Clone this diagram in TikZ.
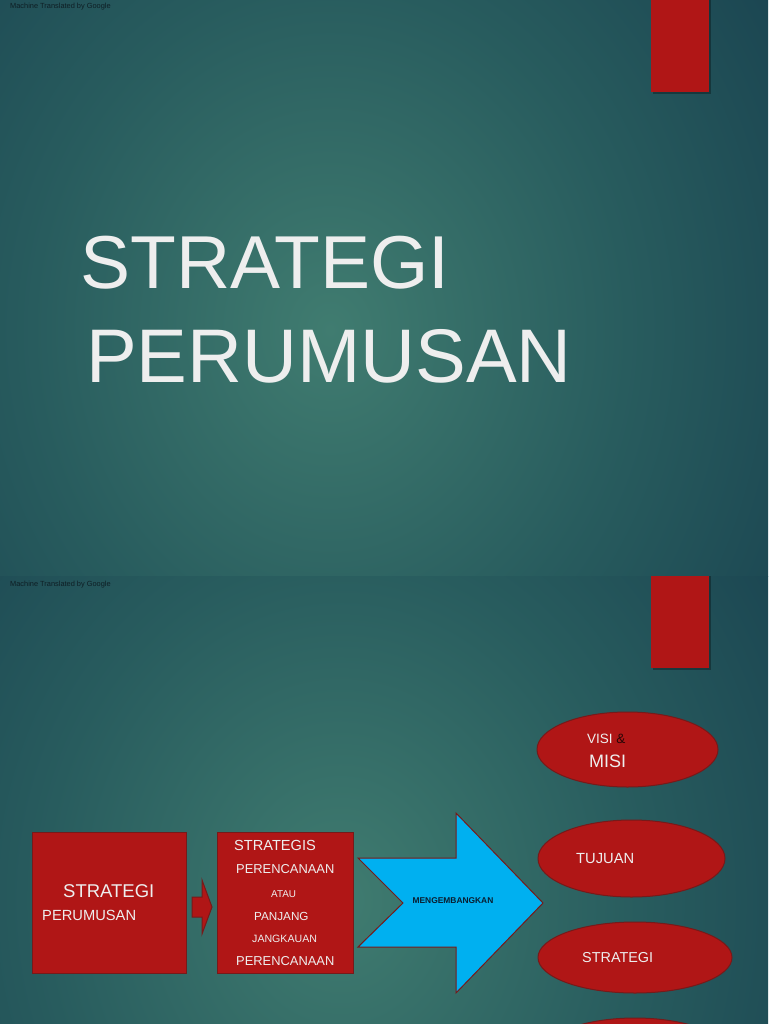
\documentclass[tikz,border=0pt]{standalone}
\usepackage{fontspec}
\setmainfont{Liberation Sans}
\usetikzlibrary{shapes.geometric}
\definecolor{bgin}{RGB}{64,124,112}
\definecolor{bgmid}{RGB}{40,92,94}
\definecolor{bgout}{RGB}{19,56,74}
\definecolor{redf}{RGB}{176,22,22}
\definecolor{redd}{RGB}{118,26,26}
\definecolor{cyanf}{RGB}{0,176,240}
\definecolor{txtw}{RGB}{238,238,238}
\definecolor{notec}{RGB}{14,30,36}
\definecolor{ampc}{RGB}{40,6,6}
\definecolor{navyt}{RGB}{10,30,48}
\pgfdeclareradialshading{glow}{\pgfpoint{0bp}{0bp}}{color(0bp)=(bgin); color(12bp)=(bgmid); color(27bp)=(bgout); color(50bp)=(bgout)}
\begin{document}
\begin{tikzpicture}[x=1pt,y=-1pt,
  redbox/.style={draw=redd, line width=1pt, fill=redf, inner sep=0pt},
  oval/.style={ellipse, draw=redd, line width=1pt, fill=redf, inner sep=0pt},
  tab/.style={fill=redf},
  tabshadow/.style={fill=black, opacity=0.3},
  wt/.style={text=txtw, anchor=base west, inner sep=0pt},
  note/.style={text=notec, anchor=base west, inner sep=0pt, font=\fontsize{7.4}{8}\selectfont},
  blockarrow/.style={draw=redd, line width=1pt}]
\useasboundingbox (0,0) rectangle (768,1024);

% ---------- slide 1 background ----------
\fill[bgout] (0,0) rectangle (768,576);
\begin{scope}
  \clip (0,0) rectangle (768,576);
  \shade[shading=glow] (330,330) ellipse [x radius=620, y radius=720];
\end{scope}
% ---------- slide 2 background ----------
\fill[bgout] (0,576) rectangle (768,1024);
\begin{scope}
  \clip (0,576) rectangle (768,1024);
  \shade[shading=glow] (340,900) ellipse [x radius=620, y radius=720];
\end{scope}

% ---------- slide 1 ----------
\node[note] (n1) at (10,9) {Machine Translated by Google};
\fill[tabshadow] (653,0) rectangle (711,94);
\fill[tab] (651,0) rectangle (709,92);
\node[anchor=base west, inner sep=0pt, text=txtw, font=\fontsize{75}{75}\selectfont] (t1) at (80,288) {STRATEGI};
\node[anchor=base west, inner sep=0pt, text=txtw, font=\fontsize{76}{76}\selectfont] (t2) at (86,382) {PERUMUSAN};

% ---------- slide 2 ----------
\node[note] (n2) at (10,586) {Machine Translated by Google};
\fill[tabshadow] (653,576) rectangle (711,670);
\fill[tab] (651,576) rectangle (709,668);

% box 1
\node[redbox, minimum width=154pt, minimum height=141pt] (box1) at (109,903) {};
\node[wt, font=\fontsize{18.5}{19}\selectfont] (b1a) at (63,897) {STRATEGI};
\node[wt, font=\fontsize{14.7}{15}\selectfont] (b1b) at (42,920) {PERUMUSAN};

% small arrow
\draw[blockarrow, fill=redf] (192,897) -- (202,897) -- (202,880) -- (212,907) -- (202,934) -- (202,917) -- (192,917) -- cycle;

% box 2
\node[redbox, minimum width=136pt, minimum height=141pt] (box2) at (285,903) {};
\node[wt, font=\fontsize{14.6}{15}\selectfont] (b2a) at (234,850) {STRATEGIS};
\node[wt, font=\fontsize{12.9}{13}\selectfont] (b2b) at (236,873) {PERENCANAAN};
\node[wt, font=\fontsize{9.9}{10}\selectfont] (b2c) at (271,897) {ATAU};
\node[wt, font=\fontsize{11.7}{12}\selectfont] (b2d) at (254,920) {PANJANG};
\node[wt, font=\fontsize{10.6}{11}\selectfont] (b2e) at (252,942) {JANGKAUAN};
\node[wt, font=\fontsize{12.9}{13}\selectfont] (b2f) at (236,965) {PERENCANAAN};

% big arrow
\draw[blockarrow, fill=cyanf] (358,858) -- (456,858) -- (456,813) -- (543,903) -- (456,993) -- (456,947) -- (358,947) -- (403,903) -- cycle;
\node[inner sep=0pt, text=navyt, font=\bfseries\fontsize{8.4}{9}\selectfont] (dev) at (453,901) {MENGEMBANGKAN};

% ellipses
\node[oval, minimum width=181pt, minimum height=75pt] (e1) at (627.5,749.5) {};
\node[oval, minimum width=187pt, minimum height=77pt] (e2) at (631.5,858.5) {};
\node[oval, minimum width=194pt, minimum height=71pt] (e3) at (635,957.5) {};
\node[oval, minimum width=190pt, minimum height=74pt] (e4) at (635,1055) {};

\node[wt, font=\fontsize{13.5}{14}\selectfont] (v1) at (587,743) {VISI \textcolor{ampc}{\&}};
\node[wt, font=\fontsize{18}{18}\selectfont] (v2) at (589,767) {MISI};
\node[wt, font=\fontsize{14.7}{15}\selectfont] (tj) at (576,863) {TUJUAN};
\node[wt, font=\fontsize{14.4}{15}\selectfont] (st) at (582,962) {STRATEGI};
\end{tikzpicture}
\end{document}
